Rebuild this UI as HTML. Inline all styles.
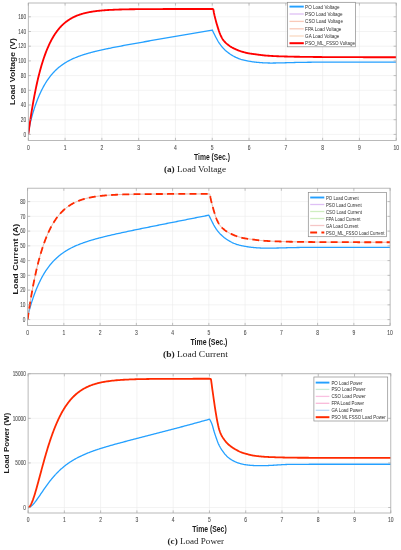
<!DOCTYPE html>
<html lang="en"><head><meta charset="utf-8"><title>Load Voltage, Current and Power</title>
<style>html,body{margin:0;padding:0;background:#fff;}svg{display:block;}</style></head>
<body>
<svg width="401" height="550" viewBox="0 0 401 550" font-family="'Liberation Sans', sans-serif">
<rect width="401" height="550" fill="#fff"/>
<g id="plot1">
<path d="M65.09 3V140.4M101.88 3V140.4M138.67 3V140.4M175.46 3V140.4M212.25 3V140.4M249.04 3V140.4M285.83 3V140.4M322.62 3V140.4M359.41 3V140.4M28.3 134.4H396.2M28.3 119.7H396.2M28.3 105H396.2M28.3 90.3H396.2M28.3 75.6H396.2M28.3 60.9H396.2M28.3 46.2H396.2M28.3 31.5H396.2M28.3 16.8H396.2" stroke="#ebebeb" stroke-width="0.6" fill="none"/>
<clipPath id="c0"><rect x="28.3" y="3" width="367.9" height="137.4"/></clipPath>
<polyline points="28.3,134.4 28.85,130.43 29.4,127.16 29.77,125.27 29.96,124.38 30.51,121.9 31.06,119.64 31.24,118.92 31.61,117.52 32.16,115.51 32.71,113.6 33.27,111.76 33.82,109.99 34.19,108.84 34.37,108.28 34.92,106.62 35.47,105.02 35.66,104.5 36.03,103.47 36.58,101.97 37.13,100.51 37.68,99.1 38.23,97.74 38.6,96.85 38.79,96.41 39.34,95.12 39.89,93.88 40.07,93.47 40.44,92.67 40.99,91.49 41.54,90.36 42.1,89.25 42.65,88.18 43.02,87.49 43.2,87.14 43.75,86.13 44.3,85.16 44.49,84.84 44.86,84.21 45.41,83.29 45.96,82.39 46.51,81.52 47.06,80.68 47.43,80.13 47.61,79.86 48.17,79.07 48.72,78.29 48.9,78.04 49.27,77.54 49.82,76.81 50.37,76.11 50.93,75.42 51.48,74.75 51.85,74.31 52.03,74.1 52.58,73.47 53.13,72.85 53.32,72.65 53.69,72.26 54.24,71.68 54.79,71.11 55.34,70.56 55.89,70.03 56.26,69.68 56.44,69.51 57,69 57.55,68.51 57.73,68.34 58.1,68.03 58.65,67.56 59.2,67.1 59.76,66.66 60.31,66.23 60.68,65.94 60.86,65.81 61.41,65.39 61.96,64.99 62.15,64.86 62.51,64.6 63.07,64.22 63.62,63.85 64.17,63.49 64.72,63.14 65.09,62.9 65.27,62.79 65.83,62.45 66.38,62.12 66.56,62.02 66.93,61.8 67.48,61.49 68.03,61.18 68.59,60.88 69.14,60.59 69.5,60.4 69.69,60.3 70.24,60.02 70.79,59.75 70.98,59.66 71.34,59.48 71.9,59.21 72.45,58.96 73,58.7 73.55,58.46 73.92,58.29 74.1,58.21 74.66,57.98 75.21,57.74 75.39,57.67 75.76,57.52 76.31,57.29 76.86,57.07 76.86,57.07 77.41,56.86 77.97,56.65 78.33,56.51 78.52,56.44 79.07,56.23 79.62,56.03 79.81,55.97 80.17,55.83 80.73,55.64 81.28,55.45 81.83,55.26 82.38,55.08 82.75,54.96 82.93,54.9 83.48,54.72 84.04,54.54 84.22,54.48 84.59,54.37 85.14,54.2 85.69,54.03 86.24,53.86 86.8,53.7 87.16,53.59 87.35,53.54 87.9,53.38 88.45,53.22 88.64,53.17 89,53.07 89.56,52.91 90.11,52.76 90.66,52.61 91.21,52.46 91.58,52.37 91.76,52.32 92.31,52.17 92.87,52.03 93.05,51.98 93.42,51.89 93.97,51.75 94.52,51.61 94.52,51.61 95.07,51.47 95.63,51.34 95.99,51.25 96.18,51.21 96.73,51.07 97.28,50.94 97.47,50.9 97.83,50.81 98.38,50.68 98.94,50.55 99.49,50.43 100.04,50.3 100.41,50.22 100.59,50.17 101.14,50.05 101.7,49.93 101.88,49.89 102.25,49.8 102.8,49.68 103.35,49.56 103.9,49.44 104.46,49.32 104.82,49.25 105.01,49.21 105.56,49.09 106.11,48.97 106.29,48.93 106.66,48.86 107.21,48.74 107.77,48.63 108.32,48.51 108.87,48.4 109.24,48.32 110.71,48.02 112.18,47.73 113.65,47.44 115.12,47.15 116.6,46.86 118.07,46.58 119.54,46.3 121.01,46.02 122.48,45.75 123.95,45.47 125.43,45.2 126.9,44.93 128.37,44.66 129.84,44.39 131.31,44.13 132.78,43.86 134.26,43.6 135.73,43.33 137.2,43.07 138.67,42.81 140.14,42.54 141.61,42.28 143.08,42.02 144.56,41.76 146.03,41.5 147.5,41.25 148.97,40.99 150.44,40.73 151.91,40.47 153.39,40.21 154.86,39.96 156.33,39.7 157.8,39.44 159.27,39.19 160.74,38.93 162.22,38.67 163.69,38.42 165.16,38.16 166.63,37.91 168.1,37.65 169.57,37.4 171.05,37.14 172.52,36.89 173.99,36.63 175.46,36.38 176.93,36.12 178.4,35.87 179.87,35.61 181.35,35.36 182.82,35.1 184.29,34.85 185.76,34.59 187.23,34.34 188.7,34.08 190.18,33.83 191.65,33.58 193.12,33.32 194.59,33.07 196.06,32.81 197.53,32.56 199.01,32.3 200.48,32.05 201.95,31.8 203.42,31.54 204.89,31.29 206.36,31.03 207.84,30.78 209.31,30.52 210.78,30.27 212.25,30.02 212.25,30.03 212.8,31.13 213.35,32.23 213.72,32.97 213.91,33.34 214.46,34.45 215.01,35.57 215.19,35.94 215.56,36.67 216.11,37.73 216.66,38.77 216.66,38.77 217.22,39.8 217.77,40.79 218.14,41.42 218.32,41.73 218.87,42.58 219.42,43.4 219.61,43.66 219.98,44.18 220.53,44.94 221.08,45.66 221.08,45.66 221.63,46.35 222.18,47.02 222.55,47.44 222.74,47.65 223.29,48.26 223.84,48.84 224.02,49.02 224.39,49.39 224.94,49.93 225.49,50.44 225.49,50.44 226.05,50.93 226.6,51.41 226.97,51.71 227.15,51.86 227.7,52.3 228.25,52.73 228.44,52.87 228.81,53.14 229.36,53.53 229.91,53.92 229.91,53.92 230.46,54.28 231.01,54.64 231.38,54.87 231.56,54.99 232.12,55.32 232.67,55.64 232.85,55.75 233.22,55.95 233.77,56.26 234.32,56.56 234.32,56.56 234.88,56.85 235.43,57.12 235.8,57.3 235.98,57.39 236.53,57.64 237.08,57.89 237.27,57.96 237.64,58.12 238.19,58.35 238.74,58.57 238.74,58.57 239.29,58.78 239.84,58.99 240.21,59.11 240.39,59.18 240.95,59.36 241.5,59.52 241.68,59.58 242.05,59.68 242.6,59.83 243.15,59.97 243.15,59.97 243.71,60.1 244.26,60.23 244.63,60.32 244.81,60.36 245.36,60.48 245.91,60.6 246.1,60.64 246.46,60.71 247.02,60.82 247.57,60.93 247.57,60.93 248.12,61.03 248.67,61.13 249.04,61.19 249.22,61.23 249.78,61.32 250.33,61.42 250.51,61.45 250.88,61.51 251.43,61.6 251.98,61.69 251.98,61.69 252.54,61.77 253.09,61.85 253.45,61.9 253.64,61.93 254.19,62 254.74,62.07 254.93,62.09 255.29,62.13 255.85,62.19 256.4,62.24 256.4,62.24 256.95,62.3 257.5,62.35 257.87,62.39 258.05,62.41 258.61,62.46 259.16,62.51 259.34,62.52 259.71,62.55 260.26,62.6 260.81,62.64 260.81,62.64 261.36,62.68 261.92,62.71 262.28,62.74 262.47,62.75 263.02,62.78 263.57,62.8 263.76,62.81 264.12,62.83 264.68,62.85 265.23,62.87 265.23,62.87 265.78,62.9 266.33,62.92 266.7,62.93 266.88,62.94 267.43,62.96 267.99,62.98 268.17,62.98 268.54,62.99 269.09,63.01 269.64,63.02 269.64,63.02 270.19,63.03 270.75,63.03 271.11,63.03 271.3,63.03 271.85,63.03 272.4,63.03 272.59,63.03 272.95,63.02 273.51,63.02 274.06,63.01 274.06,63.01 274.61,63 275.16,62.99 275.53,62.98 275.71,62.98 276.26,62.97 276.82,62.96 277,62.95 277.37,62.95 277.92,62.93 278.47,62.92 278.47,62.92 279.02,62.91 279.58,62.9 279.94,62.89 280.13,62.89 280.68,62.88 281.23,62.87 281.42,62.86 281.78,62.85 282.33,62.84 282.89,62.83 282.89,62.83 283.44,62.81 283.99,62.8 284.36,62.79 284.54,62.79 285.09,62.77 285.65,62.76 285.83,62.75 286.2,62.74 286.75,62.72 287.3,62.71 287.3,62.71 287.85,62.69 288.41,62.68 288.77,62.66 288.96,62.66 289.51,62.64 290.06,62.63 290.24,62.62 290.61,62.61 291.16,62.59 291.72,62.58 291.72,62.58 292.27,62.56 292.82,62.55 293.19,62.54 294.66,62.49 296.13,62.46 297.6,62.42 299.07,62.39 300.55,62.37 302.02,62.35 303.49,62.33 304.96,62.31 306.43,62.29 307.9,62.27 309.38,62.25 310.85,62.23 312.32,62.21 313.79,62.2 315.26,62.18 316.73,62.17 318.21,62.16 319.68,62.16 321.15,62.15 322.62,62.15 324.09,62.15 325.56,62.15 327.03,62.15 328.51,62.15 329.98,62.15 331.45,62.15 332.92,62.15 334.39,62.15 335.86,62.15 337.34,62.15 338.81,62.15 340.28,62.15 341.75,62.15 343.22,62.15 344.69,62.15 346.17,62.15 347.64,62.15 349.11,62.15 350.58,62.15 352.05,62.15 353.52,62.15 355,62.15 356.47,62.15 357.94,62.15 359.41,62.15 360.88,62.15 362.35,62.15 363.82,62.15 365.3,62.15 366.77,62.15 368.24,62.15 369.71,62.15 371.18,62.15 372.65,62.15 374.13,62.15 375.6,62.15 377.07,62.15 378.54,62.15 380.01,62.15 381.48,62.15 382.96,62.15 384.43,62.15 385.9,62.15 387.37,62.15 388.84,62.15 390.31,62.15 391.79,62.15 393.26,62.15 394.73,62.15 396.2,62.15" fill="none" stroke="#24a0ff" stroke-width="1.3" stroke-linejoin="round" clip-path="url(#c0)"/>
<polyline points="28.3,134.4 28.85,130.29 29.4,126.31 29.77,123.74 29.96,122.47 30.51,118.75 31.06,115.15 31.24,113.98 31.61,111.67 32.16,108.3 32.71,105.05 33.27,101.9 33.82,98.86 34.19,96.88 34.37,95.91 34.92,93.06 35.47,90.31 35.66,89.41 36.03,87.64 36.58,85.06 37.13,82.57 37.68,80.16 38.23,77.83 38.6,76.31 38.79,75.57 39.34,73.39 39.89,71.28 40.07,70.59 40.44,69.23 40.99,67.26 41.54,65.35 42.1,63.5 42.65,61.72 43.02,60.56 43.2,59.99 43.75,58.32 44.3,56.7 44.49,56.17 44.86,55.14 45.41,53.63 45.96,52.16 46.51,50.75 47.06,49.38 47.43,48.49 47.61,48.06 48.17,46.78 48.72,45.54 48.9,45.13 49.27,44.34 49.82,43.18 50.37,42.06 50.93,40.98 51.48,39.93 51.85,39.25 52.03,38.92 52.58,37.94 53.13,36.99 53.32,36.68 53.69,36.07 54.24,35.18 54.79,34.33 55.34,33.5 55.89,32.69 56.26,32.17 56.44,31.92 57,31.16 57.55,30.44 57.73,30.2 58.1,29.74 58.65,29.06 59.2,28.4 59.76,27.76 60.31,27.15 60.68,26.75 60.86,26.55 61.41,25.98 61.96,25.42 62.15,25.24 62.51,24.88 63.07,24.36 63.62,23.86 64.17,23.37 64.72,22.9 65.09,22.6 65.27,22.45 65.83,22.01 66.38,21.58 66.56,21.44 66.93,21.17 67.48,20.77 68.03,20.38 68.59,20.01 69.14,19.65 69.5,19.42 69.69,19.3 70.24,18.96 70.79,18.64 70.98,18.53 71.34,18.32 71.9,18.02 72.45,17.72 73,17.44 73.55,17.16 73.92,16.98 74.1,16.89 74.66,16.63 75.21,16.38 75.39,16.3 75.76,16.14 76.31,15.91 76.86,15.68 76.86,15.68 77.41,15.46 77.97,15.25 78.33,15.11 78.52,15.05 79.07,14.85 79.62,14.66 79.81,14.6 80.17,14.47 80.73,14.29 81.28,14.12 81.83,13.95 82.38,13.79 82.75,13.69 82.93,13.63 83.48,13.48 84.04,13.34 84.22,13.29 84.59,13.19 85.14,13.06 85.69,12.92 86.24,12.8 86.8,12.67 87.16,12.59 87.35,12.55 87.9,12.44 88.45,12.32 88.64,12.29 89,12.21 89.56,12.11 90.11,12.01 90.66,11.91 91.21,11.81 91.58,11.75 91.76,11.72 92.31,11.63 92.87,11.55 93.05,11.52 93.42,11.46 93.97,11.38 94.52,11.31 94.52,11.31 95.07,11.23 95.63,11.16 95.99,11.11 96.18,11.09 96.73,11.02 97.28,10.95 97.47,10.93 97.83,10.89 98.38,10.83 98.94,10.77 99.49,10.71 100.04,10.65 100.41,10.62 100.59,10.6 101.14,10.55 101.7,10.5 101.88,10.48 102.25,10.45 102.8,10.4 103.35,10.36 103.9,10.31 104.46,10.27 104.82,10.24 105.01,10.23 105.56,10.19 106.11,10.15 106.29,10.14 106.66,10.11 107.21,10.08 107.77,10.04 108.32,10.01 108.87,9.97 109.24,9.95 110.71,9.87 112.18,9.8 113.65,9.73 115.12,9.67 116.6,9.61 118.07,9.56 119.54,9.52 121.01,9.47 122.48,9.43 123.95,9.4 125.43,9.36 126.9,9.33 128.37,9.31 129.84,9.28 131.31,9.26 132.78,9.24 134.26,9.22 135.73,9.2 137.2,9.18 138.67,9.17 140.14,9.16 141.61,9.14 143.08,9.13 144.56,9.12 146.03,9.11 147.5,9.1 148.97,9.09 150.44,9.09 151.91,9.08 153.39,9.07 154.86,9.07 156.33,9.06 157.8,9.06 159.27,9.05 160.74,9.05 162.22,9.05 163.69,9.04 165.16,9.04 166.63,9.04 168.1,9.04 169.57,9.03 171.05,9.03 172.52,9.03 173.99,9.03 175.46,9.03 176.93,9.02 178.4,9.02 179.87,9.02 181.35,9.02 182.82,9.02 184.29,9.02 185.76,9.02 187.23,9.02 188.7,9.02 190.18,9.02 191.65,9.02 193.12,9.01 194.59,9.01 196.06,9.01 197.53,9.01 199.01,9.01 200.48,9.01 201.95,9.01 203.42,9.01 204.89,9.01 206.36,9.01 207.84,9.01 209.31,9.01 210.78,9.01 212.25,9.01 212.25,9.01 212.8,9.04 213.35,9.45 213.72,11.5 213.91,12.71 214.46,15.31 215.01,17.53 215.19,18.24 215.56,19.63 216.11,21.67 216.66,23.66 216.66,23.66 217.22,25.57 217.77,27.38 218.14,28.55 218.32,29.12 218.87,30.79 219.42,32.34 219.61,32.82 219.98,33.75 220.53,35.07 221.08,36.27 221.08,36.27 221.63,37.37 222.18,38.38 222.55,39.01 222.74,39.31 223.29,40.1 223.84,40.79 224.02,41 224.39,41.42 224.94,42.02 225.49,42.57 225.49,42.57 226.05,43.09 226.6,43.59 226.97,43.9 227.15,44.06 227.7,44.51 228.25,44.95 228.44,45.09 228.81,45.37 229.36,45.77 229.91,46.16 229.91,46.16 230.46,46.53 231.01,46.88 231.38,47.11 231.56,47.22 232.12,47.54 232.67,47.84 232.85,47.94 233.22,48.13 233.77,48.41 234.32,48.68 234.32,48.68 234.88,48.93 235.43,49.18 235.8,49.34 235.98,49.41 236.53,49.65 237.08,49.87 237.27,49.95 237.64,50.1 238.19,50.32 238.74,50.54 238.74,50.54 239.29,50.75 239.84,50.95 240.21,51.08 240.39,51.15 240.95,51.33 241.5,51.51 241.68,51.57 242.05,51.68 242.6,51.84 243.15,52 243.15,52 243.71,52.16 244.26,52.31 244.63,52.41 244.81,52.46 245.36,52.6 245.91,52.74 246.1,52.78 246.46,52.87 247.02,53 247.57,53.12 247.57,53.12 248.12,53.23 248.67,53.34 249.04,53.4 249.22,53.43 249.78,53.53 250.33,53.61 250.51,53.64 250.88,53.69 251.43,53.77 251.98,53.84 251.98,53.84 252.54,53.92 253.09,53.99 253.45,54.03 253.64,54.05 254.19,54.12 254.74,54.19 254.93,54.21 255.29,54.26 255.85,54.33 256.4,54.41 256.4,54.41 256.95,54.48 257.5,54.56 257.87,54.61 258.05,54.64 258.61,54.71 259.16,54.79 259.34,54.81 259.71,54.86 260.26,54.94 260.81,55.01 260.81,55.01 261.36,55.08 261.92,55.15 262.28,55.2 262.47,55.22 263.02,55.29 263.57,55.35 263.76,55.37 264.12,55.4 264.68,55.46 265.23,55.5 265.23,55.5 265.78,55.55 266.33,55.59 266.7,55.62 266.88,55.63 267.43,55.67 267.99,55.71 268.17,55.72 268.54,55.75 269.09,55.79 269.64,55.82 269.64,55.82 270.19,55.86 270.75,55.89 271.11,55.92 271.3,55.93 271.85,55.96 272.4,55.99 272.59,56 272.95,56.02 273.51,56.05 274.06,56.08 274.06,56.08 274.61,56.11 275.16,56.14 275.53,56.15 275.71,56.16 276.26,56.19 276.82,56.21 277,56.22 277.37,56.24 277.92,56.26 278.47,56.28 278.47,56.28 279.02,56.3 279.58,56.32 279.94,56.33 280.13,56.34 280.68,56.35 281.23,56.37 281.42,56.38 281.78,56.39 282.33,56.41 282.89,56.42 282.89,56.42 283.44,56.44 283.99,56.45 284.36,56.46 284.54,56.47 285.09,56.49 285.65,56.5 285.83,56.51 286.2,56.52 286.75,56.53 287.3,56.54 287.3,56.54 287.85,56.56 288.41,56.57 288.77,56.58 288.96,56.58 289.51,56.6 290.06,56.61 290.24,56.62 290.61,56.62 291.16,56.64 291.72,56.65 291.72,56.65 292.27,56.66 292.82,56.67 293.19,56.68 294.66,56.71 296.13,56.74 297.6,56.76 299.07,56.79 300.55,56.81 302.02,56.83 303.49,56.85 304.96,56.87 306.43,56.88 307.9,56.9 309.38,56.92 310.85,56.93 312.32,56.95 313.79,56.97 315.26,56.98 316.73,57 318.21,57.01 319.68,57.02 321.15,57.04 322.62,57.05 324.09,57.06 325.56,57.07 327.03,57.08 328.51,57.09 329.98,57.1 331.45,57.11 332.92,57.12 334.39,57.13 335.86,57.13 337.34,57.14 338.81,57.15 340.28,57.15 341.75,57.15 343.22,57.16 344.69,57.16 346.17,57.16 347.64,57.17 349.11,57.17 350.58,57.17 352.05,57.18 353.52,57.18 355,57.18 356.47,57.18 357.94,57.19 359.41,57.19 360.88,57.19 362.35,57.2 363.82,57.2 365.3,57.2 366.77,57.2 368.24,57.2 369.71,57.21 371.18,57.21 372.65,57.21 374.13,57.21 375.6,57.21 377.07,57.22 378.54,57.22 380.01,57.22 381.48,57.22 382.96,57.22 384.43,57.22 385.9,57.22 387.37,57.22 388.84,57.22 390.31,57.22 391.79,57.22 393.26,57.22 394.73,57.22 396.2,57.23" fill="none" stroke="#ff0000" stroke-width="1.85" stroke-linejoin="round" clip-path="url(#c0)"/>
<rect x="28.3" y="3" width="367.9" height="137.4" fill="none" stroke="#a8a8a8" stroke-width="0.8"/>
<path d="M28.3 140.4v-2.6M28.3 3v2.6M65.09 140.4v-2.6M65.09 3v2.6M101.88 140.4v-2.6M101.88 3v2.6M138.67 140.4v-2.6M138.67 3v2.6M175.46 140.4v-2.6M175.46 3v2.6M212.25 140.4v-2.6M212.25 3v2.6M249.04 140.4v-2.6M249.04 3v2.6M285.83 140.4v-2.6M285.83 3v2.6M322.62 140.4v-2.6M322.62 3v2.6M359.41 140.4v-2.6M359.41 3v2.6M396.2 140.4v-2.6M396.2 3v2.6M28.3 134.4h2.6M396.2 134.4h-2.6M28.3 119.7h2.6M396.2 119.7h-2.6M28.3 105h2.6M396.2 105h-2.6M28.3 90.3h2.6M396.2 90.3h-2.6M28.3 75.6h2.6M396.2 75.6h-2.6M28.3 60.9h2.6M396.2 60.9h-2.6M28.3 46.2h2.6M396.2 46.2h-2.6M28.3 31.5h2.6M396.2 31.5h-2.6M28.3 16.8h2.6M396.2 16.8h-2.6" stroke="#a8a8a8" stroke-width="0.7" fill="none"/>
<g fill="#505050" stroke="#505050" stroke-width="0.1">
<text x="26.91" y="149.7" font-size="6.4" textLength="2.78" lengthAdjust="spacingAndGlyphs">0</text>
<text x="63.7" y="149.7" font-size="6.4" textLength="2.78" lengthAdjust="spacingAndGlyphs">1</text>
<text x="100.49" y="149.7" font-size="6.4" textLength="2.78" lengthAdjust="spacingAndGlyphs">2</text>
<text x="137.28" y="149.7" font-size="6.4" textLength="2.78" lengthAdjust="spacingAndGlyphs">3</text>
<text x="174.07" y="149.7" font-size="6.4" textLength="2.78" lengthAdjust="spacingAndGlyphs">4</text>
<text x="210.86" y="149.7" font-size="6.4" textLength="2.78" lengthAdjust="spacingAndGlyphs">5</text>
<text x="247.65" y="149.7" font-size="6.4" textLength="2.78" lengthAdjust="spacingAndGlyphs">6</text>
<text x="284.44" y="149.7" font-size="6.4" textLength="2.78" lengthAdjust="spacingAndGlyphs">7</text>
<text x="321.23" y="149.7" font-size="6.4" textLength="2.78" lengthAdjust="spacingAndGlyphs">8</text>
<text x="358.02" y="149.7" font-size="6.4" textLength="2.78" lengthAdjust="spacingAndGlyphs">9</text>
<text x="393.42" y="149.7" font-size="6.4" textLength="5.55" lengthAdjust="spacingAndGlyphs">10</text>
<text x="23.47" y="136.6" font-size="6.4" textLength="2.63" lengthAdjust="spacingAndGlyphs">0</text>
<text x="20.83" y="121.9" font-size="6.4" textLength="5.27" lengthAdjust="spacingAndGlyphs">20</text>
<text x="20.83" y="107.2" font-size="6.4" textLength="5.27" lengthAdjust="spacingAndGlyphs">40</text>
<text x="20.83" y="92.5" font-size="6.4" textLength="5.27" lengthAdjust="spacingAndGlyphs">60</text>
<text x="20.83" y="77.8" font-size="6.4" textLength="5.27" lengthAdjust="spacingAndGlyphs">80</text>
<text x="18.2" y="63.1" font-size="6.4" textLength="7.9" lengthAdjust="spacingAndGlyphs">100</text>
<text x="18.2" y="48.4" font-size="6.4" textLength="7.9" lengthAdjust="spacingAndGlyphs">120</text>
<text x="18.2" y="33.7" font-size="6.4" textLength="7.9" lengthAdjust="spacingAndGlyphs">140</text>
<text x="18.2" y="19" font-size="6.4" textLength="7.9" lengthAdjust="spacingAndGlyphs">160</text>
</g>
<g fill="#1a1a1a">
<text x="194" y="160.3" font-size="8.3" font-weight="bold" textLength="35.9" lengthAdjust="spacingAndGlyphs">Time (Sec.)</text>
<g transform="translate(14.5 104.9) rotate(-90)"><text x="0" y="0" font-size="7.3" font-weight="bold" textLength="66.7" lengthAdjust="spacingAndGlyphs">Load Voltage (V)</text></g>
</g>
<rect x="287.5" y="2.3" width="68" height="44.5" fill="#fff" stroke="#8a8a8a" stroke-width="0.7"/>
<g fill="#2e2e2e">
<path d="M289.5 6.6H303.8" stroke="#24a0ff" stroke-width="1.9"/>
<text x="305.1" y="8.65" font-size="5.9" textLength="34.52" lengthAdjust="spacingAndGlyphs">PO Load Voltage</text>
<path d="M289.5 14H303.8" stroke="#dfc0f5" stroke-width="1.3"/>
<text x="305.1" y="16.05" font-size="5.9" textLength="37.56" lengthAdjust="spacingAndGlyphs">PSO Load Voltage</text>
<path d="M289.5 21.4H303.8" stroke="#f9c9b9" stroke-width="1.3"/>
<text x="305.1" y="23.45" font-size="5.9" textLength="37.82" lengthAdjust="spacingAndGlyphs">CSO Load Voltage</text>
<path d="M289.5 28.8H303.8" stroke="#f9c9b9" stroke-width="1.3"/>
<text x="305.1" y="30.85" font-size="5.9" textLength="36.21" lengthAdjust="spacingAndGlyphs">FPA Load Voltage</text>
<path d="M289.5 36H303.8" stroke="#f9d9c1" stroke-width="1.3"/>
<text x="305.1" y="38.05" font-size="5.9" textLength="34.27" lengthAdjust="spacingAndGlyphs">GA Load Voltage</text>
<path d="M289.5 43.2H303.8" stroke="#ff0000" stroke-width="2.0"/>
<text x="305.1" y="45.25" font-size="5.9" textLength="49.99" lengthAdjust="spacingAndGlyphs">PSO_ML_FSSO Voltage</text>
</g>
<g font-family="'Liberation Serif', serif" fill="#222">
<text x="163.9" y="171.5" font-size="9" font-weight="bold" textLength="10.75" lengthAdjust="spacingAndGlyphs">(a)</text>
<text x="176.95" y="171.5" font-size="9" textLength="49.05" lengthAdjust="spacingAndGlyphs">Load Voltage</text>
</g>
</g>
<g id="plot2">
<path d="M63.85 188.2V325.5M100.1 188.2V325.5M136.35 188.2V325.5M172.6 188.2V325.5M208.85 188.2V325.5M245.1 188.2V325.5M281.35 188.2V325.5M317.6 188.2V325.5M353.85 188.2V325.5M27.6 319.6H390.1M27.6 304.85H390.1M27.6 290.1H390.1M27.6 275.35H390.1M27.6 260.6H390.1M27.6 245.85H390.1M27.6 231.1H390.1M27.6 216.35H390.1M27.6 201.6H390.1" stroke="#ebebeb" stroke-width="0.6" fill="none"/>
<clipPath id="c1"><rect x="27.6" y="188.2" width="362.5" height="137.3"/></clipPath>
<polyline points="27.6,319.6 28.14,314.82 28.69,312.28 29.05,311.08 29.23,310.42 29.78,308.51 30.32,306.65 30.5,306.04 30.86,304.84 31.41,303.08 31.95,301.38 32.49,299.72 33.04,298.11 33.4,297.06 33.58,296.54 34.12,295.02 34.67,293.54 34.85,293.06 35.21,292.11 35.76,290.71 36.3,289.35 36.84,288.03 37.39,286.75 37.75,285.91 37.93,285.5 38.48,284.29 39.02,283.11 39.2,282.72 39.56,281.96 40.11,280.85 40.65,279.76 41.19,278.71 41.74,277.68 42.1,277.01 42.28,276.68 42.83,275.71 43.37,274.76 43.55,274.45 43.91,273.84 44.46,272.95 45,272.07 45.54,271.22 46.09,270.4 46.45,269.86 46.63,269.59 47.18,268.81 47.72,268.05 47.9,267.8 48.26,267.3 48.81,266.58 49.35,265.87 49.89,265.19 50.44,264.52 50.8,264.08 50.98,263.86 51.52,263.23 52.07,262.61 52.25,262.4 52.61,262 53.16,261.41 53.7,260.84 54.24,260.28 54.79,259.73 55.15,259.37 55.33,259.2 55.88,258.68 56.42,258.17 56.6,258 56.96,257.67 57.51,257.19 58.05,256.71 58.59,256.25 59.14,255.8 59.5,255.5 59.68,255.36 60.23,254.93 60.77,254.51 60.95,254.37 61.31,254.1 61.86,253.69 62.4,253.3 62.94,252.92 63.49,252.54 63.85,252.29 64.03,252.17 64.58,251.81 65.12,251.46 65.3,251.34 65.66,251.11 66.21,250.77 66.75,250.44 67.29,250.12 67.84,249.8 68.2,249.59 68.38,249.49 68.92,249.18 69.47,248.88 69.65,248.79 70.01,248.59 70.56,248.3 71.1,248.02 71.64,247.74 72.19,247.47 72.55,247.29 72.73,247.21 73.28,246.94 73.82,246.69 74,246.6 74.36,246.43 74.91,246.18 75.45,245.94 75.45,245.94 75.99,245.7 76.54,245.46 76.9,245.31 77.08,245.23 77.62,245 78.17,244.78 78.35,244.7 78.71,244.56 79.26,244.34 79.8,244.12 80.34,243.91 80.89,243.71 81.25,243.57 81.43,243.5 81.97,243.3 82.52,243.1 82.7,243.03 83.06,242.9 83.61,242.71 84.15,242.52 84.69,242.33 85.24,242.14 85.6,242.02 85.78,241.96 86.32,241.78 86.87,241.6 87.05,241.54 87.41,241.42 87.96,241.25 88.5,241.07 89.04,240.9 89.59,240.73 89.95,240.62 90.13,240.57 90.68,240.4 91.22,240.24 91.4,240.18 91.76,240.08 92.31,239.92 92.85,239.76 92.85,239.76 93.39,239.6 93.94,239.44 94.3,239.34 94.48,239.29 95.03,239.14 95.57,238.99 95.75,238.94 96.11,238.84 96.66,238.69 97.2,238.54 97.74,238.39 98.29,238.25 98.65,238.15 98.83,238.1 99.38,237.96 99.92,237.82 100.1,237.77 100.46,237.68 101.01,237.54 101.55,237.4 102.09,237.26 102.64,237.12 103,237.03 103.18,236.99 103.72,236.85 104.27,236.72 104.45,236.67 104.81,236.59 105.36,236.45 105.9,236.32 106.44,236.19 106.99,236.06 107.35,235.97 108.8,235.63 110.25,235.29 111.7,234.95 113.15,234.62 114.6,234.3 116.05,233.97 117.5,233.65 118.95,233.33 120.4,233.01 121.85,232.7 123.3,232.39 124.75,232.08 126.2,231.77 127.65,231.46 129.1,231.16 130.55,230.86 132,230.55 133.45,230.25 134.9,229.95 136.35,229.65 137.8,229.36 139.25,229.06 140.7,228.76 142.15,228.47 143.6,228.17 145.05,227.88 146.5,227.58 147.95,227.29 149.4,227 150.85,226.71 152.3,226.42 153.75,226.12 155.2,225.83 156.65,225.54 158.1,225.25 159.55,224.96 161,224.67 162.45,224.38 163.9,224.09 165.35,223.8 166.8,223.51 168.25,223.23 169.7,222.94 171.15,222.65 172.6,222.36 174.05,222.07 175.5,221.78 176.95,221.5 178.4,221.21 179.85,220.92 181.3,220.63 182.75,220.34 184.2,220.06 185.65,219.77 187.1,219.48 188.55,219.19 190,218.91 191.45,218.62 192.9,218.33 194.35,218.04 195.8,217.76 197.25,217.47 198.7,217.18 200.15,216.9 201.6,216.61 203.05,216.32 204.5,216.03 205.95,215.75 207.4,215.46 208.85,215.17 208.85,215.17 209.39,216.27 209.94,217.38 210.3,218.11 210.48,218.48 211.02,219.59 211.57,220.71 211.75,221.08 212.11,221.81 212.66,222.87 213.2,223.92 213.2,223.92 213.74,224.95 214.29,225.94 214.65,226.57 214.83,226.87 215.37,227.73 215.92,228.54 216.1,228.81 216.46,229.33 217.01,230.08 217.55,230.81 217.55,230.81 218.09,231.5 218.64,232.17 219,232.59 219.18,232.8 219.72,233.41 220.27,233.99 220.45,234.18 220.81,234.54 221.36,235.08 221.9,235.59 221.9,235.59 222.44,236.09 222.99,236.56 223.35,236.87 223.53,237.02 224.07,237.46 224.62,237.88 224.8,238.02 225.16,238.29 225.71,238.69 226.25,239.07 226.25,239.07 226.79,239.44 227.34,239.8 227.7,240.03 227.88,240.14 228.42,240.47 228.97,240.8 229.15,240.9 229.51,241.11 230.06,241.42 230.6,241.71 230.6,241.71 231.14,242 231.69,242.28 232.05,242.46 232.23,242.55 232.77,242.8 233.32,243.04 233.5,243.12 233.86,243.28 234.41,243.5 234.95,243.73 234.95,243.73 235.49,243.94 236.04,244.14 236.4,244.27 236.58,244.33 237.12,244.51 237.67,244.68 237.85,244.73 238.21,244.84 238.76,244.98 239.3,245.13 239.3,245.13 239.84,245.26 240.39,245.39 240.75,245.48 240.93,245.52 241.47,245.64 242.02,245.76 242.2,245.79 242.56,245.87 243.11,245.98 243.65,246.08 243.65,246.08 244.19,246.19 244.74,246.29 245.1,246.35 245.28,246.38 245.82,246.48 246.37,246.58 246.55,246.61 246.91,246.67 247.46,246.76 248,246.84 248,246.84 248.54,246.93 249.09,247.01 249.45,247.06 249.63,247.09 250.17,247.16 250.72,247.23 250.9,247.25 251.26,247.29 251.81,247.35 252.35,247.4 252.35,247.4 252.89,247.46 253.44,247.51 253.8,247.55 253.98,247.57 254.52,247.62 255.07,247.66 255.25,247.68 255.61,247.71 256.16,247.75 256.7,247.8 256.7,247.8 257.24,247.84 257.79,247.87 258.15,247.89 258.33,247.9 258.87,247.93 259.42,247.96 259.6,247.97 259.96,247.99 260.51,248.01 261.05,248.03 261.05,248.03 261.59,248.06 262.14,248.08 262.5,248.09 262.68,248.1 263.22,248.12 263.77,248.14 263.95,248.14 264.31,248.15 264.86,248.17 265.4,248.18 265.4,248.18 265.94,248.19 266.49,248.19 266.85,248.19 267.03,248.19 267.57,248.19 268.12,248.19 268.3,248.18 268.66,248.18 269.21,248.17 269.75,248.17 269.75,248.17 270.29,248.16 270.84,248.15 271.2,248.14 271.38,248.14 271.92,248.13 272.47,248.12 272.65,248.11 273.01,248.1 273.56,248.09 274.1,248.08 274.1,248.08 274.64,248.07 275.19,248.06 275.55,248.05 275.73,248.05 276.27,248.04 276.82,248.02 277,248.02 277.36,248.01 277.91,248 278.45,247.99 278.45,247.99 278.99,247.97 279.54,247.96 279.9,247.95 280.08,247.94 280.62,247.93 281.17,247.91 281.35,247.91 281.71,247.9 282.26,247.88 282.8,247.87 282.8,247.87 283.34,247.85 283.89,247.83 284.25,247.82 284.43,247.82 284.97,247.8 285.52,247.79 285.7,247.78 286.06,247.77 286.61,247.75 287.15,247.74 287.15,247.74 287.69,247.72 288.24,247.7 288.6,247.69 290.05,247.65 291.5,247.62 292.95,247.58 294.4,247.55 295.85,247.53 297.3,247.51 298.75,247.49 300.2,247.46 301.65,247.44 303.1,247.42 304.55,247.41 306,247.39 307.45,247.37 308.9,247.36 310.35,247.34 311.8,247.33 313.25,247.32 314.7,247.31 316.15,247.31 317.6,247.31 319.05,247.31 320.5,247.31 321.95,247.31 323.4,247.31 324.85,247.31 326.3,247.31 327.75,247.31 329.2,247.31 330.65,247.31 332.1,247.31 333.55,247.31 335,247.31 336.45,247.31 337.9,247.31 339.35,247.31 340.8,247.31 342.25,247.31 343.7,247.31 345.15,247.31 346.6,247.31 348.05,247.31 349.5,247.31 350.95,247.31 352.4,247.31 353.85,247.31 355.3,247.31 356.75,247.31 358.2,247.31 359.65,247.31 361.1,247.31 362.55,247.31 364,247.31 365.45,247.31 366.9,247.31 368.35,247.31 369.8,247.31 371.25,247.31 372.7,247.31 374.15,247.31 375.6,247.31 377.05,247.31 378.5,247.31 379.95,247.31 381.4,247.31 382.85,247.31 384.3,247.31 385.75,247.31 387.2,247.31 388.65,247.31 390.1,247.31" fill="none" stroke="#24a0ff" stroke-width="1.3" stroke-linejoin="round" clip-path="url(#c1)"/>
<polyline points="27.6,319.6 28.14,315.77 28.69,312.06 29.05,309.65 29.23,308.46 29.78,304.98 30.32,301.59 30.5,300.49 30.86,298.32 31.41,295.14 31.95,292.05 32.49,289.07 33.04,286.17 33.4,284.29 33.58,283.36 34.12,280.64 34.67,278 34.85,277.13 35.21,275.44 35.76,272.95 36.3,270.55 36.84,268.21 37.39,265.95 37.75,264.48 37.93,263.76 38.48,261.63 39.02,259.57 39.2,258.9 39.56,257.57 40.11,255.63 40.65,253.75 41.19,251.93 41.74,250.16 42.1,249.02 42.28,248.45 42.83,246.79 43.37,245.18 43.55,244.66 43.91,243.62 44.46,242.11 45,240.64 45.54,239.22 46.09,237.84 46.45,236.94 46.63,236.5 47.18,235.21 47.72,233.95 47.9,233.54 48.26,232.73 48.81,231.55 49.35,230.4 49.89,229.29 50.44,228.21 50.8,227.51 50.98,227.17 51.52,226.16 52.07,225.18 52.25,224.86 52.61,224.22 53.16,223.3 53.7,222.41 54.24,221.54 54.79,220.7 55.15,220.15 55.33,219.88 55.88,219.09 56.42,218.33 56.6,218.08 56.96,217.58 57.51,216.86 58.05,216.17 58.59,215.49 59.14,214.83 59.5,214.41 59.68,214.2 60.23,213.58 60.77,212.98 60.95,212.78 61.31,212.4 61.86,211.84 62.4,211.29 62.94,210.76 63.49,210.25 63.85,209.92 64.03,209.75 64.58,209.27 65.12,208.8 65.3,208.65 65.66,208.35 66.21,207.91 66.75,207.49 67.29,207.07 67.84,206.67 68.2,206.41 68.38,206.29 68.92,205.91 69.47,205.54 69.65,205.42 70.01,205.19 70.56,204.85 71.1,204.51 71.64,204.19 72.19,203.88 72.55,203.68 72.73,203.58 73.28,203.28 73.82,203 74,202.91 74.36,202.72 74.91,202.45 75.45,202.19 75.45,202.19 75.99,201.94 76.54,201.7 76.9,201.54 77.08,201.46 77.62,201.23 78.17,201.01 78.35,200.94 78.71,200.8 79.26,200.59 79.8,200.38 80.34,200.19 80.89,200 81.25,199.87 81.43,199.81 81.97,199.63 82.52,199.46 82.7,199.4 83.06,199.29 83.61,199.13 84.15,198.97 84.69,198.82 85.24,198.67 85.6,198.57 85.78,198.52 86.32,198.38 86.87,198.25 87.05,198.2 87.41,198.12 87.96,197.99 88.5,197.86 89.04,197.74 89.59,197.63 89.95,197.55 90.13,197.52 90.68,197.41 91.22,197.3 91.4,197.27 91.76,197.2 92.31,197.1 92.85,197 92.85,197 93.39,196.91 93.94,196.82 94.3,196.76 94.48,196.73 95.03,196.64 95.57,196.56 95.75,196.53 96.11,196.48 96.66,196.4 97.2,196.33 97.74,196.26 98.29,196.18 98.65,196.14 98.83,196.12 99.38,196.05 99.92,195.98 100.1,195.96 100.46,195.92 101.01,195.86 101.55,195.8 102.09,195.75 102.64,195.69 103,195.65 103.18,195.64 103.72,195.58 104.27,195.53 104.45,195.52 104.81,195.49 105.36,195.44 105.9,195.39 106.44,195.35 106.99,195.3 107.35,195.28 108.8,195.17 110.25,195.07 111.7,194.98 113.15,194.9 114.6,194.82 116.05,194.75 117.5,194.69 118.95,194.63 120.4,194.57 121.85,194.52 123.3,194.47 124.75,194.43 126.2,194.39 127.65,194.35 129.1,194.32 130.55,194.29 132,194.26 133.45,194.24 134.9,194.21 136.35,194.19 137.8,194.17 139.25,194.15 140.7,194.13 142.15,194.12 143.6,194.1 145.05,194.09 146.5,194.08 147.95,194.06 149.4,194.05 150.85,194.04 152.3,194.03 153.75,194.03 155.2,194.02 156.65,194.01 158.1,194.01 159.55,194 161,193.99 162.45,193.99 163.9,193.98 165.35,193.98 166.8,193.98 168.25,193.97 169.7,193.97 171.15,193.97 172.6,193.96 174.05,193.96 175.5,193.96 176.95,193.96 178.4,193.95 179.85,193.95 181.3,193.95 182.75,193.95 184.2,193.95 185.65,193.95 187.1,193.94 188.55,193.94 190,193.94 191.45,193.94 192.9,193.94 194.35,193.94 195.8,193.94 197.25,193.94 198.7,193.94 200.15,193.94 201.6,193.94 203.05,193.94 204.5,193.94 205.95,193.93 207.4,193.93 208.85,193.93 208.85,193.93 209.39,193.96 209.94,194.37 210.3,196.43 210.48,197.64 211.02,200.24 211.57,202.47 211.75,203.18 212.11,204.57 212.66,206.62 213.2,208.61 213.2,208.61 213.74,210.53 214.29,212.35 214.65,213.52 214.83,214.09 215.37,215.76 215.92,217.31 216.1,217.8 216.46,218.73 217.01,220.04 217.55,221.25 217.55,221.25 218.09,222.35 218.64,223.37 219,224 219.18,224.3 219.72,225.09 220.27,225.78 220.45,226 220.81,226.42 221.36,227.01 221.9,227.57 221.9,227.57 222.44,228.09 222.99,228.58 223.35,228.9 223.53,229.06 224.07,229.51 224.62,229.95 224.8,230.09 225.16,230.37 225.71,230.77 226.25,231.16 226.25,231.16 226.79,231.53 227.34,231.89 227.7,232.11 227.88,232.22 228.42,232.55 228.97,232.85 229.15,232.95 229.51,233.14 230.06,233.42 230.6,233.69 230.6,233.69 231.14,233.94 231.69,234.19 232.05,234.35 232.23,234.43 232.77,234.66 233.32,234.89 233.5,234.96 233.86,235.11 234.41,235.33 234.95,235.55 234.95,235.55 235.49,235.76 236.04,235.97 236.4,236.1 236.58,236.16 237.12,236.35 237.67,236.52 237.85,236.58 238.21,236.69 238.76,236.86 239.3,237.02 239.3,237.02 239.84,237.17 240.39,237.33 240.75,237.43 240.93,237.47 241.47,237.62 242.02,237.76 242.2,237.8 242.56,237.89 243.11,238.02 243.65,238.14 243.65,238.14 244.19,238.25 244.74,238.36 245.1,238.42 245.28,238.45 245.82,238.55 246.37,238.63 246.55,238.66 246.91,238.71 247.46,238.79 248,238.87 248,238.87 248.54,238.94 249.09,239.01 249.45,239.05 249.63,239.07 250.17,239.14 250.72,239.21 250.9,239.24 251.26,239.28 251.81,239.36 252.35,239.43 252.35,239.43 252.89,239.5 253.44,239.58 253.8,239.63 253.98,239.66 254.52,239.73 255.07,239.81 255.25,239.84 255.61,239.89 256.16,239.96 256.7,240.04 256.7,240.04 257.24,240.11 257.79,240.18 258.15,240.22 258.33,240.24 258.87,240.31 259.42,240.37 259.6,240.39 259.96,240.43 260.51,240.48 261.05,240.53 261.05,240.53 261.59,240.57 262.14,240.62 262.5,240.64 262.68,240.66 263.22,240.7 263.77,240.74 263.95,240.75 264.31,240.78 264.86,240.81 265.4,240.85 265.4,240.85 265.94,240.88 266.49,240.92 266.85,240.94 267.03,240.95 267.57,240.99 268.12,241.02 268.3,241.03 268.66,241.05 269.21,241.08 269.75,241.11 269.75,241.11 270.29,241.14 270.84,241.16 271.2,241.18 271.38,241.19 271.92,241.21 272.47,241.24 272.65,241.25 273.01,241.26 273.56,241.28 274.1,241.3 274.1,241.3 274.64,241.33 275.19,241.34 275.55,241.36 275.73,241.36 276.27,241.38 276.82,241.4 277,241.4 277.36,241.42 277.91,241.43 278.45,241.45 278.45,241.45 278.99,241.47 279.54,241.48 279.9,241.49 280.08,241.5 280.62,241.51 281.17,241.53 281.35,241.53 281.71,241.54 282.26,241.56 282.8,241.57 282.8,241.57 283.34,241.58 283.89,241.6 284.25,241.61 284.43,241.61 284.97,241.63 285.52,241.64 285.7,241.64 286.06,241.65 286.61,241.66 287.15,241.68 287.15,241.68 287.69,241.69 288.24,241.7 288.6,241.71 290.05,241.74 291.5,241.76 292.95,241.79 294.4,241.81 295.85,241.84 297.3,241.86 298.75,241.88 300.2,241.89 301.65,241.91 303.1,241.93 304.55,241.95 306,241.96 307.45,241.98 308.9,241.99 310.35,242.01 311.8,242.02 313.25,242.04 314.7,242.05 316.15,242.06 317.6,242.08 319.05,242.09 320.5,242.1 321.95,242.11 323.4,242.12 324.85,242.13 326.3,242.14 327.75,242.15 329.2,242.16 330.65,242.16 332.1,242.17 333.55,242.17 335,242.18 336.45,242.18 337.9,242.18 339.35,242.19 340.8,242.19 342.25,242.19 343.7,242.2 345.15,242.2 346.6,242.2 348.05,242.21 349.5,242.21 350.95,242.21 352.4,242.22 353.85,242.22 355.3,242.22 356.75,242.22 358.2,242.23 359.65,242.23 361.1,242.23 362.55,242.23 364,242.23 365.45,242.24 366.9,242.24 368.35,242.24 369.8,242.24 371.25,242.24 372.7,242.24 374.15,242.25 375.6,242.25 377.05,242.25 378.5,242.25 379.95,242.25 381.4,242.25 382.85,242.25 384.3,242.25 385.75,242.25 387.2,242.25 388.65,242.25 390.1,242.25" fill="none" stroke="#dfa596" stroke-width="0.9" clip-path="url(#c1)"/>
<polyline points="27.6,319.6 28.14,315.77 28.69,312.06 29.05,309.65 29.23,308.46 29.78,304.98 30.32,301.59 30.5,300.49 30.86,298.32 31.41,295.14 31.95,292.05 32.49,289.07 33.04,286.17 33.4,284.29 33.58,283.36 34.12,280.64 34.67,278 34.85,277.13 35.21,275.44 35.76,272.95 36.3,270.55 36.84,268.21 37.39,265.95 37.75,264.48 37.93,263.76 38.48,261.63 39.02,259.57 39.2,258.9 39.56,257.57 40.11,255.63 40.65,253.75 41.19,251.93 41.74,250.16 42.1,249.02 42.28,248.45 42.83,246.79 43.37,245.18 43.55,244.66 43.91,243.62 44.46,242.11 45,240.64 45.54,239.22 46.09,237.84 46.45,236.94 46.63,236.5 47.18,235.21 47.72,233.95 47.9,233.54 48.26,232.73 48.81,231.55 49.35,230.4 49.89,229.29 50.44,228.21 50.8,227.51 50.98,227.17 51.52,226.16 52.07,225.18 52.25,224.86 52.61,224.22 53.16,223.3 53.7,222.41 54.24,221.54 54.79,220.7 55.15,220.15 55.33,219.88 55.88,219.09 56.42,218.33 56.6,218.08 56.96,217.58 57.51,216.86 58.05,216.17 58.59,215.49 59.14,214.83 59.5,214.41 59.68,214.2 60.23,213.58 60.77,212.98 60.95,212.78 61.31,212.4 61.86,211.84 62.4,211.29 62.94,210.76 63.49,210.25 63.85,209.92 64.03,209.75 64.58,209.27 65.12,208.8 65.3,208.65 65.66,208.35 66.21,207.91 66.75,207.49 67.29,207.07 67.84,206.67 68.2,206.41 68.38,206.29 68.92,205.91 69.47,205.54 69.65,205.42 70.01,205.19 70.56,204.85 71.1,204.51 71.64,204.19 72.19,203.88 72.55,203.68 72.73,203.58 73.28,203.28 73.82,203 74,202.91 74.36,202.72 74.91,202.45 75.45,202.19 75.45,202.19 75.99,201.94 76.54,201.7 76.9,201.54 77.08,201.46 77.62,201.23 78.17,201.01 78.35,200.94 78.71,200.8 79.26,200.59 79.8,200.38 80.34,200.19 80.89,200 81.25,199.87 81.43,199.81 81.97,199.63 82.52,199.46 82.7,199.4 83.06,199.29 83.61,199.13 84.15,198.97 84.69,198.82 85.24,198.67 85.6,198.57 85.78,198.52 86.32,198.38 86.87,198.25 87.05,198.2 87.41,198.12 87.96,197.99 88.5,197.86 89.04,197.74 89.59,197.63 89.95,197.55 90.13,197.52 90.68,197.41 91.22,197.3 91.4,197.27 91.76,197.2 92.31,197.1 92.85,197 92.85,197 93.39,196.91 93.94,196.82 94.3,196.76 94.48,196.73 95.03,196.64 95.57,196.56 95.75,196.53 96.11,196.48 96.66,196.4 97.2,196.33 97.74,196.26 98.29,196.18 98.65,196.14 98.83,196.12 99.38,196.05 99.92,195.98 100.1,195.96 100.46,195.92 101.01,195.86 101.55,195.8 102.09,195.75 102.64,195.69 103,195.65 103.18,195.64 103.72,195.58 104.27,195.53 104.45,195.52 104.81,195.49 105.36,195.44 105.9,195.39 106.44,195.35 106.99,195.3 107.35,195.28 108.8,195.17 110.25,195.07 111.7,194.98 113.15,194.9 114.6,194.82 116.05,194.75 117.5,194.69 118.95,194.63 120.4,194.57 121.85,194.52 123.3,194.47 124.75,194.43 126.2,194.39 127.65,194.35 129.1,194.32 130.55,194.29 132,194.26 133.45,194.24 134.9,194.21 136.35,194.19 137.8,194.17 139.25,194.15 140.7,194.13 142.15,194.12 143.6,194.1 145.05,194.09 146.5,194.08 147.95,194.06 149.4,194.05 150.85,194.04 152.3,194.03 153.75,194.03 155.2,194.02 156.65,194.01 158.1,194.01 159.55,194 161,193.99 162.45,193.99 163.9,193.98 165.35,193.98 166.8,193.98 168.25,193.97 169.7,193.97 171.15,193.97 172.6,193.96 174.05,193.96 175.5,193.96 176.95,193.96 178.4,193.95 179.85,193.95 181.3,193.95 182.75,193.95 184.2,193.95 185.65,193.95 187.1,193.94 188.55,193.94 190,193.94 191.45,193.94 192.9,193.94 194.35,193.94 195.8,193.94 197.25,193.94 198.7,193.94 200.15,193.94 201.6,193.94 203.05,193.94 204.5,193.94 205.95,193.93 207.4,193.93 208.85,193.93 208.85,193.93 209.39,193.96 209.94,194.37 210.3,196.43 210.48,197.64 211.02,200.24 211.57,202.47 211.75,203.18 212.11,204.57 212.66,206.62 213.2,208.61 213.2,208.61 213.74,210.53 214.29,212.35 214.65,213.52 214.83,214.09 215.37,215.76 215.92,217.31 216.1,217.8 216.46,218.73 217.01,220.04 217.55,221.25 217.55,221.25 218.09,222.35 218.64,223.37 219,224 219.18,224.3 219.72,225.09 220.27,225.78 220.45,226 220.81,226.42 221.36,227.01 221.9,227.57 221.9,227.57 222.44,228.09 222.99,228.58 223.35,228.9 223.53,229.06 224.07,229.51 224.62,229.95 224.8,230.09 225.16,230.37 225.71,230.77 226.25,231.16 226.25,231.16 226.79,231.53 227.34,231.89 227.7,232.11 227.88,232.22 228.42,232.55 228.97,232.85 229.15,232.95 229.51,233.14 230.06,233.42 230.6,233.69 230.6,233.69 231.14,233.94 231.69,234.19 232.05,234.35 232.23,234.43 232.77,234.66 233.32,234.89 233.5,234.96 233.86,235.11 234.41,235.33 234.95,235.55 234.95,235.55 235.49,235.76 236.04,235.97 236.4,236.1 236.58,236.16 237.12,236.35 237.67,236.52 237.85,236.58 238.21,236.69 238.76,236.86 239.3,237.02 239.3,237.02 239.84,237.17 240.39,237.33 240.75,237.43 240.93,237.47 241.47,237.62 242.02,237.76 242.2,237.8 242.56,237.89 243.11,238.02 243.65,238.14 243.65,238.14 244.19,238.25 244.74,238.36 245.1,238.42 245.28,238.45 245.82,238.55 246.37,238.63 246.55,238.66 246.91,238.71 247.46,238.79 248,238.87 248,238.87 248.54,238.94 249.09,239.01 249.45,239.05 249.63,239.07 250.17,239.14 250.72,239.21 250.9,239.24 251.26,239.28 251.81,239.36 252.35,239.43 252.35,239.43 252.89,239.5 253.44,239.58 253.8,239.63 253.98,239.66 254.52,239.73 255.07,239.81 255.25,239.84 255.61,239.89 256.16,239.96 256.7,240.04 256.7,240.04 257.24,240.11 257.79,240.18 258.15,240.22 258.33,240.24 258.87,240.31 259.42,240.37 259.6,240.39 259.96,240.43 260.51,240.48 261.05,240.53 261.05,240.53 261.59,240.57 262.14,240.62 262.5,240.64 262.68,240.66 263.22,240.7 263.77,240.74 263.95,240.75 264.31,240.78 264.86,240.81 265.4,240.85 265.4,240.85 265.94,240.88 266.49,240.92 266.85,240.94 267.03,240.95 267.57,240.99 268.12,241.02 268.3,241.03 268.66,241.05 269.21,241.08 269.75,241.11 269.75,241.11 270.29,241.14 270.84,241.16 271.2,241.18 271.38,241.19 271.92,241.21 272.47,241.24 272.65,241.25 273.01,241.26 273.56,241.28 274.1,241.3 274.1,241.3 274.64,241.33 275.19,241.34 275.55,241.36 275.73,241.36 276.27,241.38 276.82,241.4 277,241.4 277.36,241.42 277.91,241.43 278.45,241.45 278.45,241.45 278.99,241.47 279.54,241.48 279.9,241.49 280.08,241.5 280.62,241.51 281.17,241.53 281.35,241.53 281.71,241.54 282.26,241.56 282.8,241.57 282.8,241.57 283.34,241.58 283.89,241.6 284.25,241.61 284.43,241.61 284.97,241.63 285.52,241.64 285.7,241.64 286.06,241.65 286.61,241.66 287.15,241.68 287.15,241.68 287.69,241.69 288.24,241.7 288.6,241.71 290.05,241.74 291.5,241.76 292.95,241.79 294.4,241.81 295.85,241.84 297.3,241.86 298.75,241.88 300.2,241.89 301.65,241.91 303.1,241.93 304.55,241.95 306,241.96 307.45,241.98 308.9,241.99 310.35,242.01 311.8,242.02 313.25,242.04 314.7,242.05 316.15,242.06 317.6,242.08 319.05,242.09 320.5,242.1 321.95,242.11 323.4,242.12 324.85,242.13 326.3,242.14 327.75,242.15 329.2,242.16 330.65,242.16 332.1,242.17 333.55,242.17 335,242.18 336.45,242.18 337.9,242.18 339.35,242.19 340.8,242.19 342.25,242.19 343.7,242.2 345.15,242.2 346.6,242.2 348.05,242.21 349.5,242.21 350.95,242.21 352.4,242.22 353.85,242.22 355.3,242.22 356.75,242.22 358.2,242.23 359.65,242.23 361.1,242.23 362.55,242.23 364,242.23 365.45,242.24 366.9,242.24 368.35,242.24 369.8,242.24 371.25,242.24 372.7,242.24 374.15,242.25 375.6,242.25 377.05,242.25 378.5,242.25 379.95,242.25 381.4,242.25 382.85,242.25 384.3,242.25 385.75,242.25 387.2,242.25 388.65,242.25 390.1,242.25" fill="none" stroke="#ff2a00" stroke-width="1.8" stroke-linejoin="round" stroke-dasharray="6.9 4.3" clip-path="url(#c1)"/>
<rect x="27.6" y="188.2" width="362.5" height="137.3" fill="none" stroke="#a8a8a8" stroke-width="0.8"/>
<path d="M27.6 325.5v-2.6M27.6 188.2v2.6M63.85 325.5v-2.6M63.85 188.2v2.6M100.1 325.5v-2.6M100.1 188.2v2.6M136.35 325.5v-2.6M136.35 188.2v2.6M172.6 325.5v-2.6M172.6 188.2v2.6M208.85 325.5v-2.6M208.85 188.2v2.6M245.1 325.5v-2.6M245.1 188.2v2.6M281.35 325.5v-2.6M281.35 188.2v2.6M317.6 325.5v-2.6M317.6 188.2v2.6M353.85 325.5v-2.6M353.85 188.2v2.6M390.1 325.5v-2.6M390.1 188.2v2.6M27.6 319.6h2.6M390.1 319.6h-2.6M27.6 304.85h2.6M390.1 304.85h-2.6M27.6 290.1h2.6M390.1 290.1h-2.6M27.6 275.35h2.6M390.1 275.35h-2.6M27.6 260.6h2.6M390.1 260.6h-2.6M27.6 245.85h2.6M390.1 245.85h-2.6M27.6 231.1h2.6M390.1 231.1h-2.6M27.6 216.35h2.6M390.1 216.35h-2.6M27.6 201.6h2.6M390.1 201.6h-2.6" stroke="#a8a8a8" stroke-width="0.7" fill="none"/>
<g fill="#505050" stroke="#505050" stroke-width="0.1">
<text x="26.21" y="335.1" font-size="6.4" textLength="2.78" lengthAdjust="spacingAndGlyphs">0</text>
<text x="62.46" y="335.1" font-size="6.4" textLength="2.78" lengthAdjust="spacingAndGlyphs">1</text>
<text x="98.71" y="335.1" font-size="6.4" textLength="2.78" lengthAdjust="spacingAndGlyphs">2</text>
<text x="134.96" y="335.1" font-size="6.4" textLength="2.78" lengthAdjust="spacingAndGlyphs">3</text>
<text x="171.21" y="335.1" font-size="6.4" textLength="2.78" lengthAdjust="spacingAndGlyphs">4</text>
<text x="207.46" y="335.1" font-size="6.4" textLength="2.78" lengthAdjust="spacingAndGlyphs">5</text>
<text x="243.71" y="335.1" font-size="6.4" textLength="2.78" lengthAdjust="spacingAndGlyphs">6</text>
<text x="279.96" y="335.1" font-size="6.4" textLength="2.78" lengthAdjust="spacingAndGlyphs">7</text>
<text x="316.21" y="335.1" font-size="6.4" textLength="2.78" lengthAdjust="spacingAndGlyphs">8</text>
<text x="352.46" y="335.1" font-size="6.4" textLength="2.78" lengthAdjust="spacingAndGlyphs">9</text>
<text x="387.32" y="335.1" font-size="6.4" textLength="5.55" lengthAdjust="spacingAndGlyphs">10</text>
<text x="22.77" y="321.8" font-size="6.4" textLength="2.63" lengthAdjust="spacingAndGlyphs">0</text>
<text x="20.13" y="307.05" font-size="6.4" textLength="5.27" lengthAdjust="spacingAndGlyphs">10</text>
<text x="20.13" y="292.3" font-size="6.4" textLength="5.27" lengthAdjust="spacingAndGlyphs">20</text>
<text x="20.13" y="277.55" font-size="6.4" textLength="5.27" lengthAdjust="spacingAndGlyphs">30</text>
<text x="20.13" y="262.8" font-size="6.4" textLength="5.27" lengthAdjust="spacingAndGlyphs">40</text>
<text x="20.13" y="248.05" font-size="6.4" textLength="5.27" lengthAdjust="spacingAndGlyphs">50</text>
<text x="20.13" y="233.3" font-size="6.4" textLength="5.27" lengthAdjust="spacingAndGlyphs">60</text>
<text x="20.13" y="218.55" font-size="6.4" textLength="5.27" lengthAdjust="spacingAndGlyphs">70</text>
<text x="20.13" y="203.8" font-size="6.4" textLength="5.27" lengthAdjust="spacingAndGlyphs">80</text>
</g>
<g fill="#1a1a1a">
<text x="190.4" y="344.6" font-size="8.3" font-weight="bold" textLength="37" lengthAdjust="spacingAndGlyphs">Time (Sec.)</text>
<g transform="translate(17.7 294.5) rotate(-90)"><text x="0" y="0" font-size="7.3" font-weight="bold" textLength="70.8" lengthAdjust="spacingAndGlyphs">Load Current (A)</text></g>
</g>
<rect x="308.3" y="192.6" width="78.1" height="44.1" fill="#fff" stroke="#8a8a8a" stroke-width="0.7"/>
<g fill="#2e2e2e">
<path d="M310.2 197.5H324.3" stroke="#24a0ff" stroke-width="1.9"/>
<text x="325.9" y="199.55" font-size="5.9" textLength="32.85" lengthAdjust="spacingAndGlyphs">PO Load Current</text>
<path d="M310.2 204.5H324.3" stroke="#dfc0f5" stroke-width="1.3"/>
<text x="325.9" y="206.55" font-size="5.9" textLength="35.75" lengthAdjust="spacingAndGlyphs">PSO Load Current</text>
<path d="M310.2 211.5H324.3" stroke="#cfeec0" stroke-width="1.3"/>
<text x="325.9" y="213.55" font-size="5.9" textLength="35.99" lengthAdjust="spacingAndGlyphs">CSO Load Current</text>
<path d="M310.2 218.5H324.3" stroke="#cfeec0" stroke-width="1.3"/>
<text x="325.9" y="220.55" font-size="5.9" textLength="34.46" lengthAdjust="spacingAndGlyphs">FPA Load Current</text>
<path d="M310.2 225.5H324.3" stroke="#f5c6c6" stroke-width="1.3"/>
<text x="325.9" y="227.55" font-size="5.9" textLength="32.61" lengthAdjust="spacingAndGlyphs">GA Load Current</text>
<path d="M310.2 232.5H324.3" stroke="#ff2a00" stroke-width="2.0" stroke-dasharray="6.9 4.3"/>
<text x="325.9" y="234.55" font-size="5.9" textLength="58.45" lengthAdjust="spacingAndGlyphs">PSO_ML_FSSO Load Current</text>
</g>
<g font-family="'Liberation Serif', serif" fill="#222">
<text x="163" y="356.8" font-size="9" font-weight="bold" textLength="11.59" lengthAdjust="spacingAndGlyphs">(b)</text>
<text x="176.96" y="356.8" font-size="9" textLength="50.84" lengthAdjust="spacingAndGlyphs">Load Current</text>
</g>
</g>
<g id="plot3">
<path d="M64.37 373.75V513M100.64 373.75V513M136.91 373.75V513M173.18 373.75V513M209.45 373.75V513M245.72 373.75V513M281.99 373.75V513M318.26 373.75V513M354.53 373.75V513M28.1 507.5H390.8M28.1 462.92H390.8M28.1 418.33H390.8M28.1 373.75H390.8" stroke="#ebebeb" stroke-width="0.6" fill="none"/>
<clipPath id="c2"><rect x="28.1" y="373.75" width="362.7" height="139.25"/></clipPath>
<polyline points="28.1,507.5 28.64,507.45 29.19,507.32 29.55,507.18 29.73,507.11 30.28,506.82 30.82,506.46 31,506.33 31.36,506.05 31.91,505.59 32.45,505.07 33,504.51 33.54,503.92 33.9,503.5 34.08,503.29 34.63,502.63 35.17,501.94 35.35,501.7 35.72,501.23 36.26,500.5 36.8,499.75 37.35,498.99 37.89,498.21 38.26,497.69 38.44,497.43 38.98,496.64 39.53,495.84 39.71,495.57 40.07,495.04 40.61,494.23 41.16,493.43 41.7,492.62 42.25,491.82 42.61,491.29 42.79,491.02 43.33,490.23 43.88,489.43 44.06,489.17 44.42,488.65 44.97,487.87 45.51,487.09 46.05,486.33 46.6,485.57 46.96,485.07 47.14,484.82 47.69,484.08 48.23,483.35 48.41,483.11 48.77,482.63 49.32,481.92 49.86,481.21 50.41,480.52 50.95,479.84 51.31,479.39 51.49,479.17 52.04,478.51 52.58,477.86 52.76,477.64 53.13,477.22 53.67,476.59 54.21,475.97 54.76,475.36 55.3,474.76 55.67,474.37 55.85,474.17 56.39,473.6 56.93,473.03 57.12,472.84 57.48,472.47 58.02,471.93 58.57,471.39 59.11,470.86 59.65,470.35 60.02,470.01 60.2,469.84 60.74,469.34 61.29,468.85 61.47,468.69 61.83,468.37 62.38,467.9 62.92,467.43 63.46,466.98 64.01,466.54 64.37,466.24 64.55,466.1 65.1,465.67 65.64,465.25 65.82,465.11 66.18,464.83 66.73,464.43 67.27,464.03 67.82,463.64 68.36,463.25 68.72,463 68.9,462.88 69.45,462.51 69.99,462.14 70.17,462.02 70.54,461.79 71.08,461.44 71.62,461.09 72.17,460.75 72.71,460.42 73.07,460.2 73.26,460.09 73.8,459.77 74.34,459.46 74.53,459.35 74.89,459.15 75.43,458.84 75.98,458.54 75.98,458.54 76.52,458.24 77.06,457.95 77.43,457.76 77.61,457.67 78.15,457.39 78.7,457.11 78.88,457.02 79.24,456.84 79.78,456.57 80.33,456.3 80.87,456.04 81.42,455.79 81.78,455.62 81.96,455.53 82.5,455.29 83.05,455.04 83.23,454.96 83.59,454.8 84.14,454.56 84.68,454.32 85.23,454.09 85.77,453.86 86.13,453.71 86.31,453.63 86.86,453.41 87.4,453.19 87.58,453.12 87.95,452.97 88.49,452.76 89.03,452.54 89.58,452.33 90.12,452.13 90.48,451.99 90.67,451.92 91.21,451.72 91.75,451.52 91.94,451.45 92.3,451.32 92.84,451.12 93.39,450.92 93.39,450.92 93.93,450.73 94.47,450.54 94.84,450.41 95.02,450.35 95.56,450.16 96.11,449.98 96.29,449.92 96.65,449.79 97.19,449.61 97.74,449.43 98.28,449.25 98.83,449.07 99.19,448.96 99.37,448.9 99.91,448.72 100.46,448.55 100.64,448.49 101,448.38 101.55,448.21 102.09,448.04 102.63,447.87 103.18,447.7 103.54,447.59 103.72,447.53 104.27,447.37 104.81,447.2 104.99,447.15 105.36,447.04 105.9,446.88 106.44,446.72 106.99,446.55 107.53,446.39 107.89,446.29 109.34,445.87 110.8,445.45 112.25,445.04 113.7,444.64 115.15,444.23 116.6,443.84 118.05,443.44 119.5,443.05 120.95,442.66 122.4,442.27 123.85,441.89 125.3,441.5 126.75,441.12 128.21,440.74 129.66,440.36 131.11,439.98 132.56,439.61 134.01,439.23 135.46,438.86 136.91,438.48 138.36,438.11 139.81,437.73 141.26,437.36 142.71,436.98 144.16,436.61 145.61,436.24 147.07,435.86 148.52,435.49 149.97,435.11 151.42,434.74 152.87,434.37 154.32,433.99 155.77,433.61 157.22,433.24 158.67,432.86 160.12,432.48 161.57,432.11 163.02,431.73 164.48,431.35 165.93,430.97 167.38,430.59 168.83,430.21 170.28,429.83 171.73,429.45 173.18,429.06 174.63,428.68 176.08,428.29 177.53,427.91 178.98,427.52 180.43,427.14 181.88,426.75 183.34,426.36 184.79,425.97 186.24,425.58 187.69,425.19 189.14,424.8 190.59,424.41 192.04,424.01 193.49,423.62 194.94,423.22 196.39,422.83 197.84,422.43 199.29,422.03 200.75,421.63 202.2,421.23 203.65,420.83 205.1,420.43 206.55,420.03 208,419.63 209.45,419.22 209.45,419.22 209.99,419.96 210.54,420.92 210.9,421.67 211.08,422.07 211.63,423.36 212.17,424.75 212.35,425.26 212.71,426.46 213.26,428.51 213.8,430.55 213.8,430.55 214.35,432.34 214.89,434.02 215.25,435.1 215.43,435.63 215.98,437.2 216.52,438.79 216.7,439.31 217.07,440.35 217.61,441.84 218.15,443.2 218.15,443.2 218.7,444.4 219.24,445.5 219.61,446.2 219.79,446.54 220.33,447.53 220.88,448.46 221.06,448.76 221.42,449.34 221.96,450.17 222.51,450.97 222.51,450.97 223.05,451.72 223.6,452.45 223.96,452.92 224.14,453.15 224.68,453.82 225.23,454.46 225.41,454.66 225.77,455.07 226.32,455.64 226.86,456.19 226.86,456.19 227.4,456.7 227.95,457.18 228.31,457.48 228.49,457.63 229.04,458.07 229.58,458.48 229.76,458.62 230.12,458.88 230.67,459.25 231.21,459.61 231.21,459.61 231.76,459.94 232.3,460.26 232.66,460.47 232.84,460.57 233.39,460.86 233.93,461.15 234.11,461.24 234.48,461.41 235.02,461.67 235.56,461.91 235.56,461.91 236.11,462.14 236.65,462.36 237.02,462.5 237.2,462.57 237.74,462.77 238.28,462.96 238.47,463.03 238.83,463.15 239.37,463.32 239.92,463.49 239.92,463.49 240.46,463.64 241,463.79 241.37,463.88 241.55,463.92 242.09,464.06 242.64,464.18 242.82,464.22 243.18,464.3 243.73,464.42 244.27,464.52 244.27,464.52 244.81,464.62 245.36,464.7 245.72,464.75 245.9,464.78 246.45,464.84 246.99,464.91 247.17,464.94 247.53,464.98 248.08,465.05 248.62,465.11 248.62,465.11 249.17,465.17 249.71,465.23 250.07,465.27 250.25,465.28 250.8,465.33 251.34,465.38 251.52,465.39 251.89,465.42 252.43,465.46 252.97,465.49 252.97,465.49 253.52,465.51 254.06,465.53 254.42,465.54 254.61,465.54 255.15,465.55 255.69,465.55 255.88,465.56 256.24,465.56 256.78,465.56 257.33,465.57 257.33,465.57 257.87,465.57 258.41,465.57 258.78,465.58 258.96,465.58 259.5,465.58 260.05,465.58 260.23,465.58 260.59,465.58 261.13,465.59 261.68,465.59 261.68,465.59 262.22,465.59 262.77,465.59 263.13,465.59 263.31,465.59 263.85,465.59 264.4,465.59 264.58,465.59 264.94,465.58 265.49,465.58 266.03,465.57 266.03,465.57 266.58,465.56 267.12,465.54 267.48,465.53 267.66,465.53 268.21,465.51 268.75,465.49 268.93,465.48 269.3,465.46 269.84,465.44 270.38,465.41 270.38,465.41 270.93,465.39 271.47,465.36 271.83,465.34 272.02,465.33 272.56,465.3 273.1,465.26 273.29,465.25 273.65,465.23 274.19,465.2 274.74,465.16 274.74,465.16 275.28,465.13 275.82,465.09 276.19,465.07 276.37,465.06 276.91,465.02 277.46,464.99 277.64,464.97 278,464.95 278.54,464.91 279.09,464.88 279.09,464.88 279.63,464.84 280.18,464.81 280.54,464.79 280.72,464.78 281.26,464.74 281.81,464.71 281.99,464.7 282.35,464.68 282.9,464.65 283.44,464.62 283.44,464.62 283.98,464.6 284.53,464.57 284.89,464.55 285.07,464.55 285.62,464.52 286.16,464.5 286.34,464.5 286.71,464.49 287.25,464.47 287.79,464.46 287.79,464.46 288.34,464.44 288.88,464.44 289.24,464.43 290.69,464.42 292.15,464.4 293.6,464.39 295.05,464.37 296.5,464.36 297.95,464.35 299.4,464.33 300.85,464.32 302.3,464.31 303.75,464.3 305.2,464.29 306.65,464.28 308.1,464.28 309.56,464.27 311.01,464.27 312.46,464.26 313.91,464.26 315.36,464.25 316.81,464.25 318.26,464.25 319.71,464.25 321.16,464.25 322.61,464.25 324.06,464.25 325.51,464.25 326.96,464.25 328.42,464.25 329.87,464.25 331.32,464.25 332.77,464.25 334.22,464.25 335.67,464.25 337.12,464.25 338.57,464.25 340.02,464.25 341.47,464.25 342.92,464.25 344.37,464.25 345.83,464.25 347.28,464.25 348.73,464.25 350.18,464.25 351.63,464.25 353.08,464.25 354.53,464.25 355.98,464.25 357.43,464.25 358.88,464.25 360.33,464.25 361.78,464.25 363.23,464.25 364.69,464.25 366.14,464.25 367.59,464.25 369.04,464.25 370.49,464.25 371.94,464.25 373.39,464.25 374.84,464.25 376.29,464.25 377.74,464.25 379.19,464.25 380.64,464.25 382.1,464.25 383.55,464.25 385,464.25 386.45,464.25 387.9,464.25 389.35,464.25 390.8,464.25" fill="none" stroke="#24a0ff" stroke-width="1.3" stroke-linejoin="round" clip-path="url(#c2)"/>
<polyline points="28.1,507.5 28.64,507.36 29.19,507.03 29.55,506.66 29.73,506.45 30.28,505.69 30.82,504.75 31,504.41 31.36,503.67 31.91,502.44 32.45,501.08 33,499.62 33.54,498.06 33.9,496.97 34.08,496.41 34.63,494.69 35.17,492.9 35.35,492.3 35.72,491.06 36.26,489.17 36.8,487.24 37.35,485.28 37.89,483.3 38.26,481.96 38.44,481.29 38.98,479.27 39.53,477.24 39.71,476.57 40.07,475.21 40.61,473.18 41.16,471.15 41.7,469.13 42.25,467.12 42.61,465.79 42.79,465.13 43.33,463.14 43.88,461.18 44.06,460.53 44.42,459.24 44.97,457.32 45.51,455.43 46.05,453.56 46.6,451.72 46.96,450.5 47.14,449.9 47.69,448.11 48.23,446.36 48.41,445.78 48.77,444.63 49.32,442.93 49.86,441.27 50.41,439.64 50.95,438.04 51.31,436.99 51.49,436.47 52.04,434.93 52.58,433.42 52.76,432.93 53.13,431.95 53.67,430.51 54.21,429.1 54.76,427.72 55.3,426.37 55.67,425.49 55.85,425.06 56.39,423.77 56.93,422.52 57.12,422.11 57.48,421.3 58.02,420.1 58.57,418.94 59.11,417.8 59.65,416.69 60.02,415.97 60.2,415.61 60.74,414.56 61.29,413.54 61.47,413.2 61.83,412.54 62.38,411.56 62.92,410.62 63.46,409.69 64.01,408.8 64.37,408.21 64.55,407.92 65.1,407.07 65.64,406.25 65.82,405.97 66.18,405.44 66.73,404.66 67.27,403.9 67.82,403.16 68.36,402.44 68.72,401.97 68.9,401.74 69.45,401.06 69.99,400.39 70.17,400.18 70.54,399.75 71.08,399.13 71.62,398.52 72.17,397.93 72.71,397.36 73.07,396.99 73.26,396.8 73.8,396.26 74.34,395.74 74.53,395.56 74.89,395.23 75.43,394.73 75.98,394.25 75.98,394.25 76.52,393.78 77.06,393.33 77.43,393.04 77.61,392.89 78.15,392.46 78.7,392.05 78.88,391.91 79.24,391.65 79.78,391.26 80.33,390.88 80.87,390.51 81.42,390.15 81.78,389.92 81.96,389.81 82.5,389.47 83.05,389.14 83.23,389.04 83.59,388.83 84.14,388.52 84.68,388.22 85.23,387.93 85.77,387.65 86.13,387.47 86.31,387.38 86.86,387.12 87.4,386.86 87.58,386.78 87.95,386.62 88.49,386.37 89.03,386.14 89.58,385.92 90.12,385.7 90.48,385.55 90.67,385.48 91.21,385.28 91.75,385.08 91.94,385.01 92.3,384.88 92.84,384.69 93.39,384.51 93.39,384.51 93.93,384.33 94.47,384.16 94.84,384.05 95.02,384 95.56,383.84 96.11,383.68 96.29,383.63 96.65,383.53 97.19,383.38 97.74,383.24 98.28,383.1 98.83,382.97 99.19,382.88 99.37,382.84 99.91,382.71 100.46,382.59 100.64,382.55 101,382.47 101.55,382.36 102.09,382.24 102.63,382.14 103.18,382.03 103.54,381.96 103.72,381.93 104.27,381.83 104.81,381.74 104.99,381.71 105.36,381.65 105.9,381.56 106.44,381.47 106.99,381.39 107.53,381.3 107.89,381.25 109.34,381.05 110.8,380.87 112.25,380.7 113.7,380.54 115.15,380.4 116.6,380.26 118.05,380.14 119.5,380.03 120.95,379.93 122.4,379.83 123.85,379.75 125.3,379.67 126.75,379.59 128.21,379.53 129.66,379.46 131.11,379.41 132.56,379.35 134.01,379.31 135.46,379.26 136.91,379.22 138.36,379.18 139.81,379.15 141.26,379.12 142.71,379.09 144.16,379.06 145.61,379.04 147.07,379.01 148.52,378.99 149.97,378.97 151.42,378.96 152.87,378.94 154.32,378.93 155.77,378.91 157.22,378.9 158.67,378.89 160.12,378.88 161.57,378.87 163.02,378.86 164.48,378.85 165.93,378.84 167.38,378.84 168.83,378.83 170.28,378.82 171.73,378.82 173.18,378.81 174.63,378.81 176.08,378.8 177.53,378.8 178.98,378.8 180.43,378.79 181.88,378.79 183.34,378.79 184.79,378.79 186.24,378.78 187.69,378.78 189.14,378.78 190.59,378.78 192.04,378.78 193.49,378.77 194.94,378.77 196.39,378.77 197.84,378.77 199.29,378.77 200.75,378.77 202.2,378.77 203.65,378.77 205.1,378.77 206.55,378.76 208,378.76 209.45,378.76 209.45,378.76 209.99,378.79 210.54,378.88 210.9,379.21 211.08,379.94 211.63,383.78 212.17,388.06 212.35,389.28 212.71,391.82 213.26,395.75 213.8,399.64 213.8,399.64 214.35,403.37 214.89,407.04 215.25,409.42 215.43,410.58 215.98,413.92 216.52,417.14 216.7,418.18 217.07,420.17 217.61,422.91 218.15,425.39 218.15,425.39 218.7,427.67 219.24,429.67 219.61,430.8 219.79,431.33 220.33,432.79 220.88,434.07 221.06,434.47 221.42,435.21 221.96,436.22 222.51,437.13 222.51,437.13 223.05,437.97 223.6,438.76 223.96,439.28 224.14,439.53 224.68,440.27 225.23,440.98 225.41,441.21 225.77,441.66 226.32,442.3 226.86,442.91 226.86,442.91 227.4,443.47 227.95,444 228.31,444.34 228.49,444.51 229.04,444.98 229.58,445.43 229.76,445.58 230.12,445.86 230.67,446.28 231.21,446.68 231.21,446.68 231.76,447.07 232.3,447.44 232.66,447.69 232.84,447.81 233.39,448.16 233.93,448.51 234.11,448.62 234.48,448.84 235.02,449.16 235.56,449.47 235.56,449.47 236.11,449.78 236.65,450.07 237.02,450.27 237.2,450.37 237.74,450.66 238.28,450.94 238.47,451.03 238.83,451.22 239.37,451.48 239.92,451.74 239.92,451.74 240.46,451.98 241,452.21 241.37,452.35 241.55,452.42 242.09,452.61 242.64,452.81 242.82,452.87 243.18,452.99 243.73,453.16 244.27,453.33 244.27,453.33 244.81,453.49 245.36,453.64 245.72,453.74 245.9,453.79 246.45,453.94 246.99,454.08 247.17,454.13 247.53,454.23 248.08,454.37 248.62,454.51 248.62,454.51 249.17,454.65 249.71,454.79 250.07,454.88 250.25,454.92 250.8,455.05 251.34,455.17 251.52,455.21 251.89,455.28 252.43,455.39 252.97,455.5 252.97,455.5 253.52,455.59 254.06,455.68 254.42,455.73 254.61,455.76 255.15,455.83 255.69,455.9 255.88,455.92 256.24,455.97 256.78,456.03 257.33,456.1 257.33,456.1 257.87,456.16 258.41,456.22 258.78,456.26 258.96,456.28 259.5,456.34 260.05,456.39 260.23,456.41 260.59,456.45 261.13,456.5 261.68,456.55 261.68,456.55 262.22,456.6 262.77,456.65 263.13,456.68 263.31,456.69 263.85,456.73 264.4,456.77 264.58,456.79 264.94,456.81 265.49,456.85 266.03,456.88 266.03,456.88 266.58,456.92 267.12,456.95 267.48,456.96 267.66,456.97 268.21,457 268.75,457.02 268.93,457.03 269.3,457.04 269.84,457.06 270.38,457.09 270.38,457.09 270.93,457.11 271.47,457.13 271.83,457.14 272.02,457.15 272.56,457.17 273.1,457.19 273.29,457.19 273.65,457.2 274.19,457.22 274.74,457.24 274.74,457.24 275.28,457.26 275.82,457.28 276.19,457.29 276.37,457.3 276.91,457.31 277.46,457.33 277.64,457.34 278,457.35 278.54,457.36 279.09,457.38 279.09,457.38 279.63,457.4 280.18,457.41 280.54,457.42 280.72,457.43 281.26,457.44 281.81,457.46 281.99,457.46 282.35,457.47 282.9,457.48 283.44,457.5 283.44,457.5 283.98,457.51 284.53,457.52 284.89,457.53 285.07,457.54 285.62,457.55 286.16,457.56 286.34,457.56 286.71,457.57 287.25,457.58 287.79,457.59 287.79,457.59 288.34,457.6 288.88,457.61 289.24,457.62 290.69,457.65 292.15,457.67 293.6,457.69 295.05,457.7 296.5,457.72 297.95,457.73 299.4,457.74 300.85,457.75 302.3,457.75 303.75,457.76 305.2,457.76 306.65,457.77 308.1,457.77 309.56,457.78 311.01,457.79 312.46,457.79 313.91,457.8 315.36,457.8 316.81,457.81 318.26,457.81 319.71,457.82 321.16,457.82 322.61,457.82 324.06,457.83 325.51,457.83 326.96,457.84 328.42,457.84 329.87,457.84 331.32,457.85 332.77,457.85 334.22,457.86 335.67,457.86 337.12,457.86 338.57,457.87 340.02,457.87 341.47,457.87 342.92,457.87 344.37,457.88 345.83,457.88 347.28,457.88 348.73,457.89 350.18,457.89 351.63,457.89 353.08,457.89 354.53,457.9 355.98,457.9 357.43,457.9 358.88,457.9 360.33,457.9 361.78,457.9 363.23,457.91 364.69,457.91 366.14,457.91 367.59,457.91 369.04,457.91 370.49,457.91 371.94,457.91 373.39,457.92 374.84,457.92 376.29,457.92 377.74,457.92 379.19,457.92 380.64,457.92 382.1,457.92 383.55,457.92 385,457.92 386.45,457.92 387.9,457.92 389.35,457.92 390.8,457.92" fill="none" stroke="#ff2a00" stroke-width="1.8" stroke-linejoin="round" clip-path="url(#c2)"/>
<rect x="28.1" y="373.75" width="362.7" height="139.25" fill="none" stroke="#a8a8a8" stroke-width="0.8"/>
<path d="M28.1 513v-2.6M28.1 373.75v2.6M64.37 513v-2.6M64.37 373.75v2.6M100.64 513v-2.6M100.64 373.75v2.6M136.91 513v-2.6M136.91 373.75v2.6M173.18 513v-2.6M173.18 373.75v2.6M209.45 513v-2.6M209.45 373.75v2.6M245.72 513v-2.6M245.72 373.75v2.6M281.99 513v-2.6M281.99 373.75v2.6M318.26 513v-2.6M318.26 373.75v2.6M354.53 513v-2.6M354.53 373.75v2.6M390.8 513v-2.6M390.8 373.75v2.6M28.1 507.5h2.6M390.8 507.5h-2.6M28.1 462.92h2.6M390.8 462.92h-2.6M28.1 418.33h2.6M390.8 418.33h-2.6M28.1 373.75h2.6M390.8 373.75h-2.6" stroke="#a8a8a8" stroke-width="0.7" fill="none"/>
<g fill="#505050" stroke="#505050" stroke-width="0.1">
<text x="26.71" y="522.2" font-size="6.4" textLength="2.78" lengthAdjust="spacingAndGlyphs">0</text>
<text x="62.98" y="522.2" font-size="6.4" textLength="2.78" lengthAdjust="spacingAndGlyphs">1</text>
<text x="99.25" y="522.2" font-size="6.4" textLength="2.78" lengthAdjust="spacingAndGlyphs">2</text>
<text x="135.52" y="522.2" font-size="6.4" textLength="2.78" lengthAdjust="spacingAndGlyphs">3</text>
<text x="171.79" y="522.2" font-size="6.4" textLength="2.78" lengthAdjust="spacingAndGlyphs">4</text>
<text x="208.06" y="522.2" font-size="6.4" textLength="2.78" lengthAdjust="spacingAndGlyphs">5</text>
<text x="244.33" y="522.2" font-size="6.4" textLength="2.78" lengthAdjust="spacingAndGlyphs">6</text>
<text x="280.6" y="522.2" font-size="6.4" textLength="2.78" lengthAdjust="spacingAndGlyphs">7</text>
<text x="316.87" y="522.2" font-size="6.4" textLength="2.78" lengthAdjust="spacingAndGlyphs">8</text>
<text x="353.14" y="522.2" font-size="6.4" textLength="2.78" lengthAdjust="spacingAndGlyphs">9</text>
<text x="388.02" y="522.2" font-size="6.4" textLength="5.55" lengthAdjust="spacingAndGlyphs">10</text>
<text x="23.27" y="509.7" font-size="6.4" textLength="2.63" lengthAdjust="spacingAndGlyphs">0</text>
<text x="15.36" y="465.12" font-size="6.4" textLength="10.54" lengthAdjust="spacingAndGlyphs">5000</text>
<text x="12.73" y="420.53" font-size="6.4" textLength="13.17" lengthAdjust="spacingAndGlyphs">10000</text>
<text x="12.73" y="375.94" font-size="6.4" textLength="13.17" lengthAdjust="spacingAndGlyphs">15000</text>
</g>
<g fill="#1a1a1a">
<text x="192.3" y="531.6" font-size="8.3" font-weight="bold" textLength="34.4" lengthAdjust="spacingAndGlyphs">Time (Sec)</text>
<g transform="translate(9.2 473.5) rotate(-90)"><text x="0" y="0" font-size="7.3" font-weight="bold" textLength="60.7" lengthAdjust="spacingAndGlyphs">Load Power (W)</text></g>
</g>
<rect x="313.9" y="377" width="73.8" height="44" fill="#fff" stroke="#8a8a8a" stroke-width="0.7"/>
<g fill="#2e2e2e">
<path d="M315.7 382.6H329.4" stroke="#24a0ff" stroke-width="1.9"/>
<text x="331.4" y="384.65" font-size="5.9" textLength="31.06" lengthAdjust="spacingAndGlyphs">PO Load Power</text>
<path d="M315.7 389.4H329.4" stroke="#c9ecd9" stroke-width="1.3"/>
<text x="331.4" y="391.45" font-size="5.9" textLength="34" lengthAdjust="spacingAndGlyphs">PSO Load Power</text>
<path d="M315.7 396.4H329.4" stroke="#f9c1e1" stroke-width="1.3"/>
<text x="331.4" y="398.45" font-size="5.9" textLength="34.24" lengthAdjust="spacingAndGlyphs">CSO Load Power</text>
<path d="M315.7 403.3H329.4" stroke="#f9b9d9" stroke-width="1.3"/>
<text x="331.4" y="405.35" font-size="5.9" textLength="32.69" lengthAdjust="spacingAndGlyphs">FPA Load Power</text>
<path d="M315.7 410.3H329.4" stroke="#b9d9f9" stroke-width="1.3"/>
<text x="331.4" y="412.35" font-size="5.9" textLength="30.82" lengthAdjust="spacingAndGlyphs">GA Load Power</text>
<path d="M315.7 417.2H329.4" stroke="#ff2a00" stroke-width="2.0"/>
<text x="331.4" y="419.25" font-size="5.9" textLength="54.37" lengthAdjust="spacingAndGlyphs">PSO ML FSSO Load Power</text>
</g>
<g font-family="'Liberation Serif', serif" fill="#222">
<text x="167.6" y="543.7" font-size="9" font-weight="bold" textLength="10.06" lengthAdjust="spacingAndGlyphs">(c)</text>
<text x="179.93" y="543.7" font-size="9" textLength="44.07" lengthAdjust="spacingAndGlyphs">Load Power</text>
</g>
</g>
</svg>
</body></html>
